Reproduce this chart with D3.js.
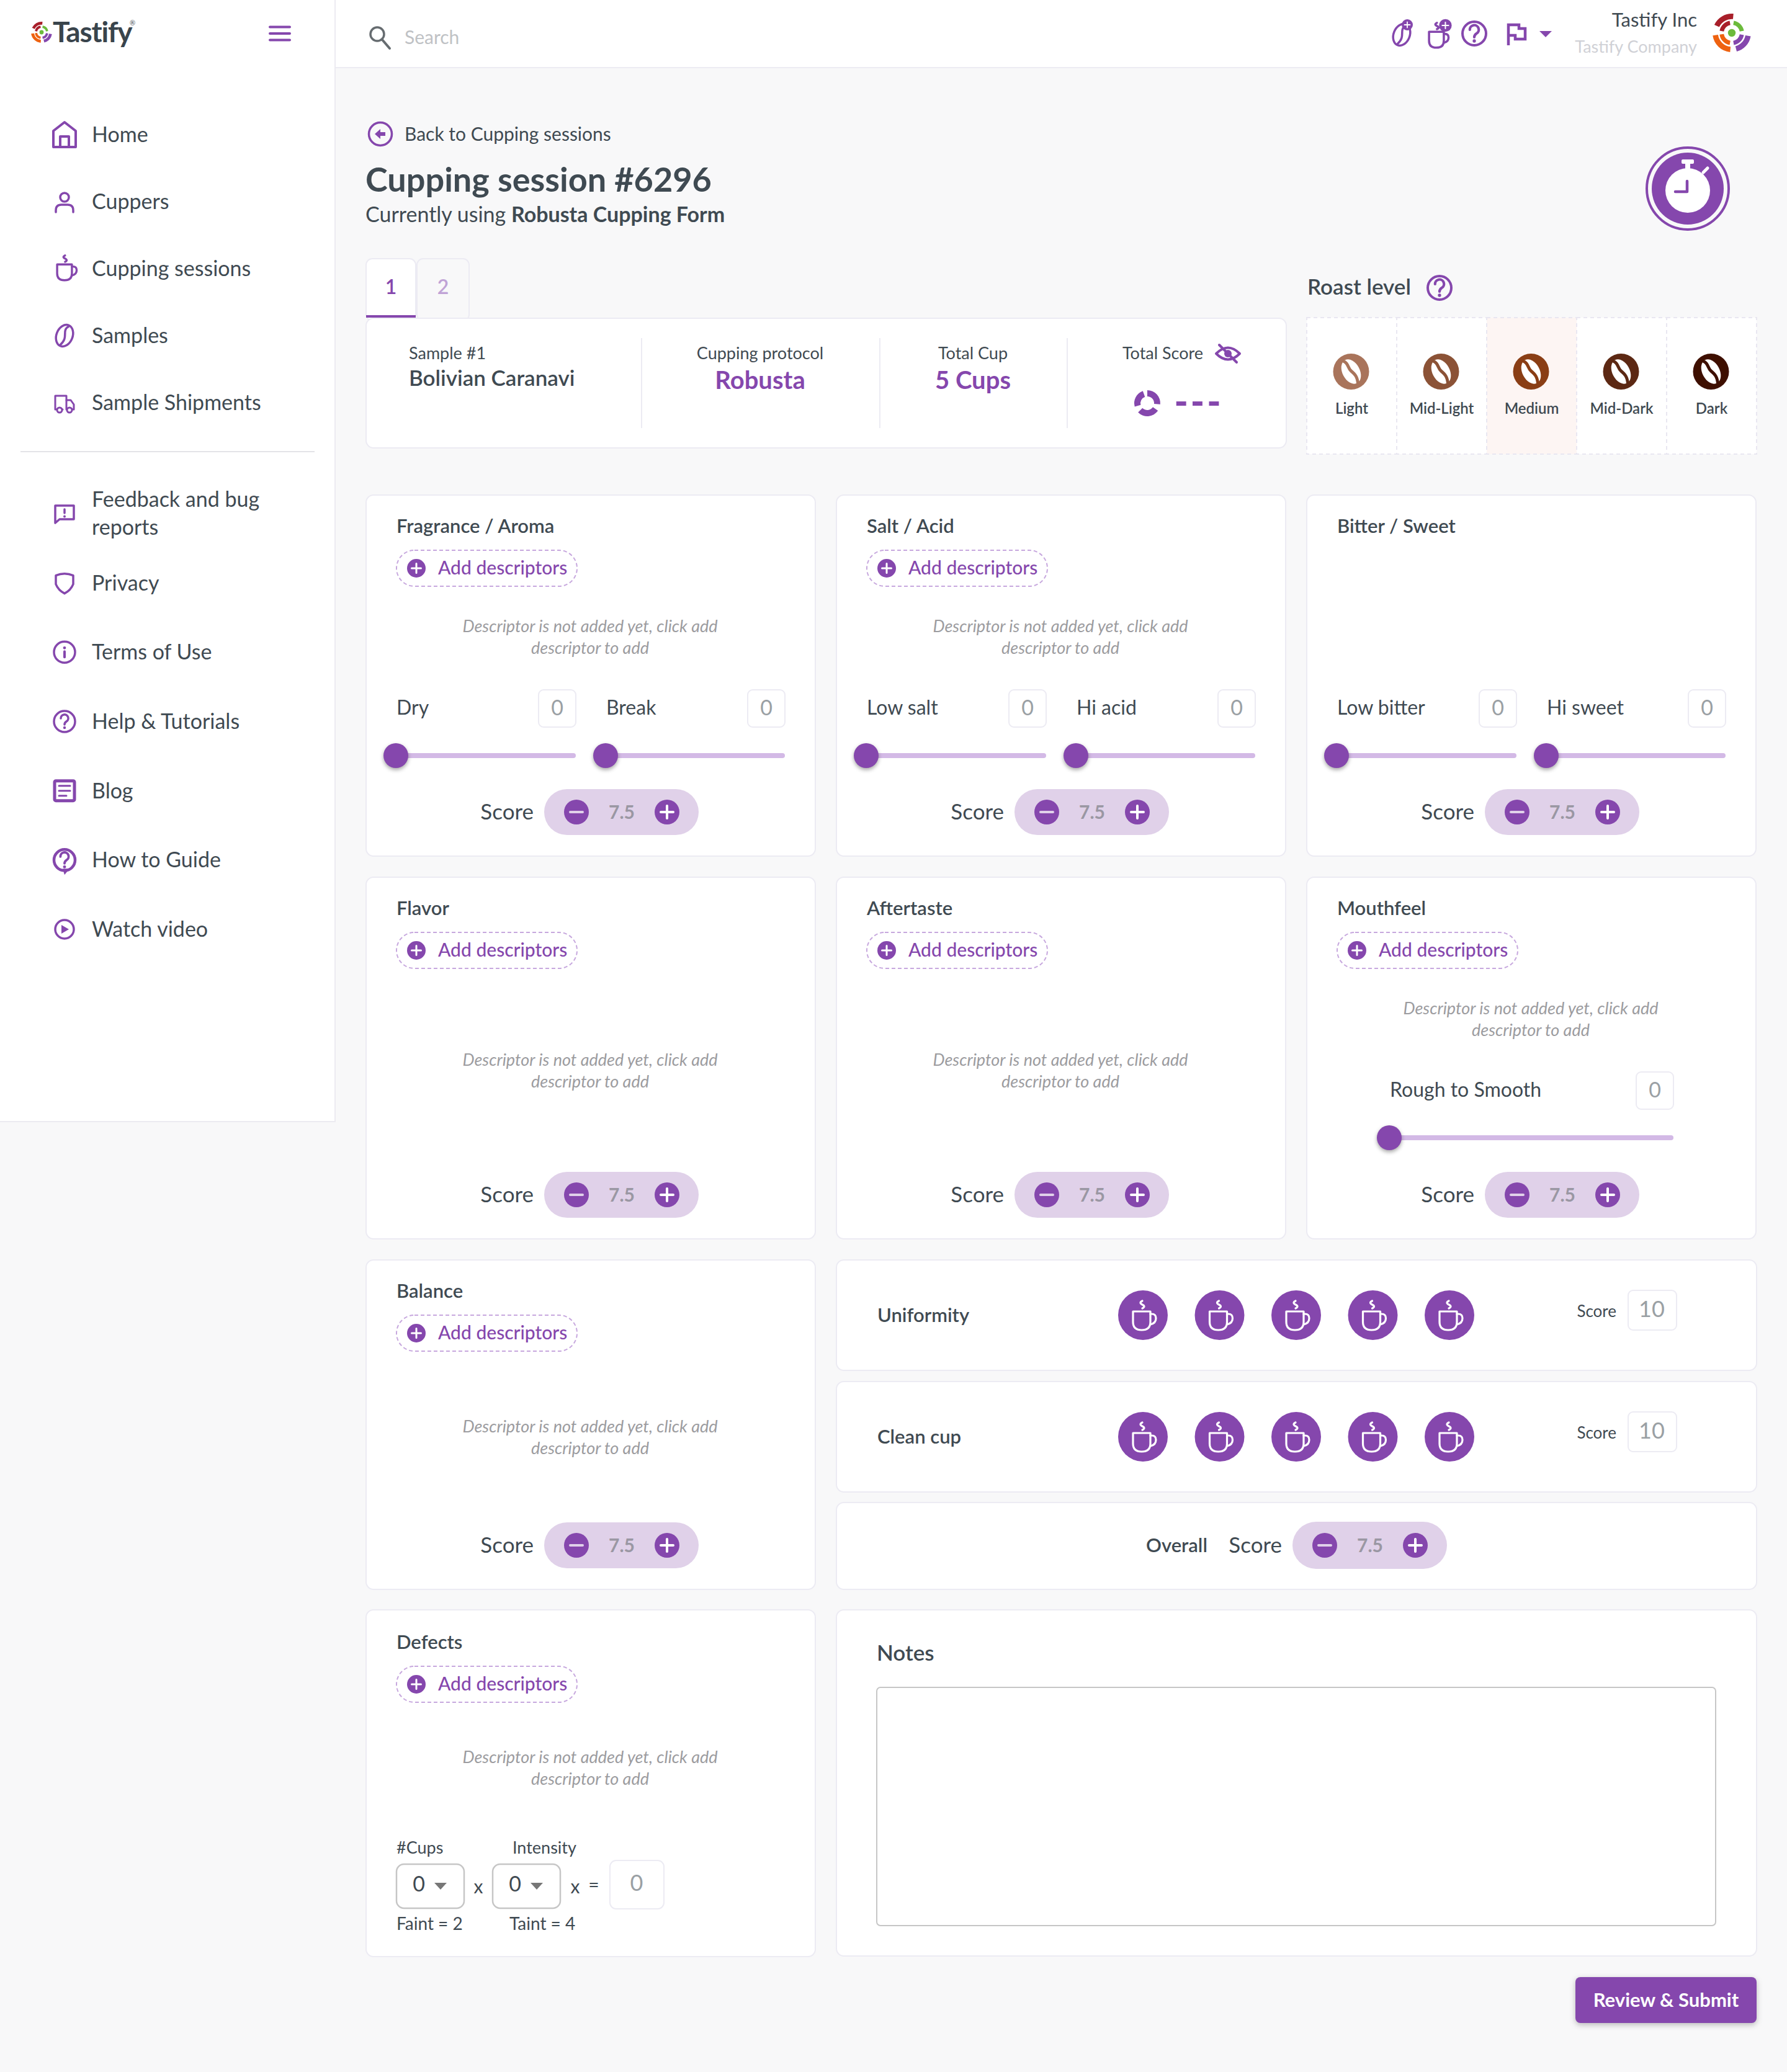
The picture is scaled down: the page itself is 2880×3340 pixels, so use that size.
<!DOCTYPE html>
<html>
<head>
<meta charset="utf-8">
<script src="https://cdn.jsdelivr.net/npm/d3@7"></script>
<style>
  html, body { margin: 0; padding: 0; background: #f8f8f9; }
  svg { display: block; }
  text { font-family: Lato, "Noto Sans", sans-serif; }
</style>
</head>
<body>
<div id="page"></div>
<script>
// page content
const navTop = ["Home", "Cuppers", "Cupping sessions", "Samples", "Sample Shipments"];
const navBottom = ["Feedback and bug|reports", "Privacy", "Terms of Use", "Help & Tutorials", "Blog", "How to Guide", "Watch video"];
const navTopIcons = ["home", "person", "cup", "bean", "truck"];
const navBottomIcons = ["feedback", "shield", "info", "help", "blog", "guide", "play"];

const sessionTabs = ["1", "2"];
const infoLabels = ["Cupping protocol", "Total Cup"];
const infoValues = ["Robusta", "5 Cups"];

const roastLevels = ["Light", "Mid-Light", "Medium", "Mid-Dark", "Dark"];
const selectedRoast = "Medium";

const cardTitles = ["Fragrance / Aroma", "Salt / Acid", "Bitter / Sweet", "Flavor", "Aftertaste", "Mouthfeel", "Balance"];
const cardScores = [7.5, 7.5, 7.5, 7.5, 7.5, 7.5, 7.5];
const cardSliderLabels = [["Dry", "Break"], ["Low salt", "Hi acid"], ["Low bitter", "Hi sweet"], [], [], ["Rough to Smooth"], []];
const cardSliderValues = [[0, 0], [0, 0], [0, 0], [], [], [0], []];
const cardHasDescriptors = [true, true, false, true, true, true, true];

const cupRows = ["Uniformity", "Clean cup"];
const cupRowScores = [10, 10];
const cupsPerRow = [0, 1, 2, 3, 4];
const overallScore = 7.5;
const defectCups = 0;
const defectIntensity = 0;
const defectTotal = 0;

const descriptorLines = ["Descriptor is not added yet, click add", "descriptor to add"];

// colours
const purple = "#8547ad";
const ink = "#3f4a52";
const softBorder = "#ecebf3";
const roastColor = d3.scaleOrdinal().domain(roastLevels).range(["#a9745b", "#8b5236", "#8a3e15", "#5c2813", "#3e0f00"]);

const svg = d3.select("#page").append("svg").attr("width", 2880).attr("height", 3340);
svg.append("rect").attr("width", 2880).attr("height", 3340).attr("fill", "#f8f8f9");

function label(g, x, y, str, opts) {
  opts = opts || {};
  return g.append("text")
    .attr("x", x).attr("y", y)
    .attr("dy", "0.35em")
    .attr("font-size", opts.size || 32)
    .attr("font-weight", opts.weight || 400)
    .attr("font-style", opts.italic ? "italic" : "normal")
    .attr("fill", opts.fill || ink)
    .attr("text-anchor", opts.anchor || "start")
    .attr("letter-spacing", opts.spacing || 0)
    .text(str);
}

function box(g, x, y, w, h, r, fill, stroke, sw) {
  return g.append("rect")
    .attr("x", x).attr("y", y).attr("width", w).attr("height", h).attr("rx", r)
    .attr("fill", fill).attr("stroke", stroke || "none").attr("stroke-width", sw || 0);
}

function line(g, d, sw, color) {
  return g.append("path").attr("d", d).attr("fill", "none")
    .attr("stroke", color || purple).attr("stroke-width", sw)
    .attr("stroke-linecap", "round").attr("stroke-linejoin", "round");
}

function questionMark(g, k, color) {
  line(g, `M${-6 * k},${-5 * k} a${6 * k},${6 * k} 0 1 1 ${9 * k},${5 * k} q${-3 * k},${2 * k} ${-3 * k},${5 * k}`, 3.5 * k, color);
  g.append("circle").attr("cy", 10 * k).attr("r", 2.2 * k).attr("fill", color || purple);
}

function plusCircle(g, x, y, r) {
  const c = g.append("g").attr("transform", `translate(${x},${y})`);
  c.append("circle").attr("r", r).attr("fill", purple);
  line(c, `M${-r * 0.5},0 H${r * 0.5} M0,${-r * 0.5} V${r * 0.5}`, r * 0.2, "#fff");
}

function minusCircle(g, x, y, r) {
  const c = g.append("g").attr("transform", `translate(${x},${y})`);
  c.append("circle").attr("r", r).attr("fill", purple);
  line(c, `M${-r * 0.5},0 H${r * 0.5}`, r * 0.2, "#e0d1e9");
}

function cupGlyph(g, color, sw) {
  line(g, "M1,-25 q-6,3 0,6 q6,3 0,6 ", sw, color);
  line(g, "M-14,-8 H14 V9 Q14,22 0,22 Q-14,22 -14,9 Z", sw, color);
  line(g, "M14,-4 h2 q7,0 7,7 q0,8 -9,10", sw, color);
}

const icons = {
  home(g) {
    line(g, "M-18,20 V-6 L0,-20 L18,-6 V20 Z", 4);
    line(g, "M-7,20 V3 H7 V20", 4);
  },
  person(g) {
    g.append("circle").attr("cy", -7).attr("r", 7).attr("fill", "none").attr("stroke", purple).attr("stroke-width", 3.5);
    line(g, "M-14,17 v-3 q0,-9 9,-9 h10 q9,0 9,9 v3", 3.5);
  },
  cup(g) { g.attr("transform", g.attr("transform") + " scale(0.85)"); cupGlyph(g, purple, 4); },
  bean(g) {
    g.append("ellipse").attr("rx", 13).attr("ry", 18).attr("transform", "rotate(22)")
      .attr("fill", "none").attr("stroke", purple).attr("stroke-width", 3.5);
    line(g, "M7,-15 C-6,-8 8,2 -7,15", 3.5);
  },
  truck(g) {
    line(g, "M-3,11 H-15 V-11 H3 V11", 3);
    line(g, "M3,-4 H10 L15,3 V11 H10", 3);
    g.append("circle").attr("cx", -8).attr("cy", 12).attr("r", 4).attr("fill", "#fff").attr("stroke", purple).attr("stroke-width", 3);
    g.append("circle").attr("cx", 8).attr("cy", 12).attr("r", 4).attr("fill", "#fff").attr("stroke", purple).attr("stroke-width", 3);
  },
  feedback(g) {
    line(g, "M-15,-13 H15 V9 H-8 L-15,15 Z", 3.5);
    line(g, "M0,-7 V-1", 3.5);
    g.append("circle").attr("cy", 4.5).attr("r", 2).attr("fill", purple);
  },
  shield(g) { line(g, "M-14,-12 Q0,-18 14,-12 V2 Q10,12 0,17 Q-10,12 -14,2 Z", 3.5); },
  info(g) {
    g.append("circle").attr("r", 17).attr("fill", "none").attr("stroke", purple).attr("stroke-width", 3.5);
    line(g, "M0,-1 V8", 4);
    g.append("circle").attr("cy", -7).attr("r", 2.3).attr("fill", purple);
  },
  help(g) {
    g.append("circle").attr("r", 17).attr("fill", "none").attr("stroke", purple).attr("stroke-width", 3.5);
    questionMark(g, 1);
  },
  blog(g) {
    box(g, -16, -16, 32, 32, 2, "none", purple, 5);
    line(g, "M-9,-8 H9 M-9,0 H9 M-9,8 H3", 3);
  },
  guide(g) {
    g.append("circle").attr("r", 17).attr("fill", "none").attr("stroke", purple).attr("stroke-width", 4.5);
    g.append("path").attr("d", "M-3,14 L0,24 L8,14 Z").attr("fill", purple);
    questionMark(g, 1.1);
  },
  play(g) {
    g.append("circle").attr("r", 15).attr("fill", "none").attr("stroke", purple).attr("stroke-width", 3.5);
    g.append("path").attr("d", "M-5,-7 L7,0 L-5,7 Z").attr("fill", purple);
  }
};

// target-like rings used by the logo and the account avatar
const arc = d3.arc();
function rings(g, k) {
  const deg = Math.PI / 180;
  const segs = [
    [0.72, 1, -65, 5, "#a81f2a"], [0.72, 1, 100, 165, "#8547ad"], [0.72, 1, 185, 262, "#ee6210"],
    [0.42, 0.64, -80, -10, "#a81f2a"], [0.42, 0.64, 10, 80, "#6cbb3c"],
    [0.42, 0.64, 100, 170, "#8547ad"], [0.42, 0.64, 190, 262, "#ee6210"]
  ];
  segs.forEach(s => {
    g.append("path").attr("fill", s[4]).attr("d", arc({
      innerRadius: s[0] * k, outerRadius: s[1] * k, startAngle: s[2] * deg, endAngle: s[3] * deg
    }));
  });
  g.append("circle").attr("r", 0.2 * k).attr("fill", "#6cbb3c");
}

// sidebar + header
box(svg, -4, -4, 544, 1812, 0, "#fff", "#ecebf1", 2);
svg.append("rect").attr("x", 541).attr("width", 2339).attr("height", 108).attr("fill", "#fff");
svg.append("rect").attr("x", 541).attr("y", 108).attr("width", 2339).attr("height", 2).attr("fill", softBorder);

rings(svg.append("g").attr("transform", "translate(67,52)"), 17);
label(svg, 85, 52, "Tastify", { size: 46, weight: 700, spacing: -1.2, fill: "#39444c" });
label(svg, 209, 37, "®", { size: 11 });
line(svg, "M435,43.5 H467 M435,54 H467 M435,64.5 H467", 4);

const searchIcon = svg.append("g").attr("transform", "translate(608,58)");
searchIcon.append("circle").attr("cy", -3).attr("r", 11).attr("fill", "none").attr("stroke", "#666c70").attr("stroke-width", 3.5);
line(searchIcon, "M8,6 L20,20", 4, "#666c70");
label(svg, 652, 60, "Search", { size: 30, fill: "#bfc2c5" });

const navY1 = d3.scalePoint().domain(navTop).range([217, 649]);
const navY2 = d3.scalePoint().domain(navBottom).range([828, 1498]);
navTop.forEach((name, i) => {
  const g = svg.append("g").attr("transform", `translate(104,${navY1(name)})`);
  icons[navTopIcons[i]](g);
  label(svg, 148, navY1(name), name, { size: 34 });
});
svg.append("rect").attr("x", 33).attr("y", 727).attr("width", 474).attr("height", 2).attr("fill", "#e4e4e8");
navBottom.forEach((name, i) => {
  const g = svg.append("g").attr("transform", `translate(104,${navY2(name)})`);
  icons[navBottomIcons[i]](g);
  const parts = name.split("|");
  if (parts.length > 1) {
    label(svg, 148, navY2(name) - 23, parts[0], { size: 34 });
    label(svg, 148, navY2(name) + 22, parts[1], { size: 34 });
  } else {
    label(svg, 148, navY2(name), name, { size: 34 });
  }
});

// top right
const beanPlus = svg.append("g").attr("transform", "translate(2259,56)");
icons.bean(beanPlus);
plusCircle(beanPlus, 9, -16, 9);
const cupPlus = svg.append("g").attr("transform", "translate(2315,58) scale(0.85)");
cupGlyph(cupPlus, purple, 4.2);
plusCircle(cupPlus, 17, -20, 12);
const topHelp = svg.append("g").attr("transform", "translate(2376,54)");
topHelp.append("circle").attr("r", 19).attr("fill", "none").attr("stroke", purple).attr("stroke-width", 4);
questionMark(topHelp, 1.2);
line(svg.append("g").attr("transform", "translate(2445,55)"), "M-14,18 V-15 H3 V-9 H13 V8 H-3 V2 H-14", 4.5).attr("stroke-linecap", "butt").attr("stroke-linejoin", "miter");
svg.append("path").attr("d", "M2481,50 H2501 L2491,60 Z").attr("fill", purple);
label(svg, 2735, 32, "Tastify Inc", { size: 31, anchor: "end" });
label(svg, 2735, 76, "Tastify Company", { size: 27, anchor: "end", fill: "#d0d1d6" });
rings(svg.append("g").attr("transform", "translate(2791,53)"), 31);

// heading block
const backIcon = svg.append("g").attr("transform", "translate(613,216)");
backIcon.append("circle").attr("r", 18.5).attr("fill", "none").attr("stroke", purple).attr("stroke-width", 3.5);
backIcon.append("path").attr("d", "M-9,0 L0,-8 V-3 H8 V3 H0 V8 Z").attr("fill", purple);
label(svg, 652, 216, "Back to Cupping sessions", { size: 30 });
label(svg, 589, 290, "Cupping session #6296", { size: 54, weight: 700 });
const subTitle = label(svg, 589, 346, "Currently using ", { size: 34 }).attr("xml:space", "preserve");
subTitle.append("tspan").attr("font-weight", 700).text("Robusta Cupping Form");

// session timer
const timer = svg.append("g").attr("transform", "translate(2720,304)");
timer.append("circle").attr("r", 66).attr("fill", "none").attr("stroke", purple).attr("stroke-width", 4);
timer.append("circle").attr("r", 58).attr("fill", purple);
timer.append("circle").attr("cy", 3).attr("r", 36).attr("fill", "#fff");
timer.append("rect").attr("x", -10).attr("y", -47).attr("width", 20).attr("height", 7).attr("rx", 2).attr("fill", "#fff");
timer.append("rect").attr("x", -4).attr("y", -42).attr("width", 8).attr("height", 10).attr("fill", "#fff");
line(timer, "M25,-26 L32,-33", 5, "#fff");
line(timer, "M-1,-12 V5 H-20", 4.5);

// tabs
const tabX = d3.scaleOrdinal().domain(sessionTabs).range([590, 672]);
const tabW = d3.scaleOrdinal().domain(sessionTabs).range([80, 84]);
sessionTabs.forEach((t, i) => {
  box(svg, tabX(t), 417, tabW(t), 100, 10, i === 0 ? "#fff" : "#f8f8f9", softBorder, 2);
  label(svg, tabX(t) + tabW(t) / 2, 463, t, { size: 32, weight: 600, anchor: "middle", fill: i === 0 ? purple : "#c0a3d6" });
});
svg.append("rect").attr("x", 590).attr("y", 508).attr("width", 80).attr("height", 4).attr("fill", purple);

// sample info strip
box(svg, 590, 513, 1483, 209, 12, "#fff", softBorder, 2);
svg.append("rect").attr("x", 590).attr("y", 508).attr("width", 80).attr("height", 4).attr("fill", purple);
[1033, 1417, 1719].forEach(x => {
  svg.append("rect").attr("x", x).attr("y", 545).attr("width", 2).attr("height", 145).attr("fill", softBorder);
});
label(svg, 659, 570, "Sample #1", { size: 27 });
label(svg, 659, 610, "Bolivian Caranavi", { size: 35, weight: 600 });
const infoX = d3.scaleOrdinal().domain(infoLabels).range([1225, 1568]);
infoLabels.forEach((t, i) => {
  label(svg, infoX(t), 570, t, { size: 27, anchor: "middle" });
  label(svg, infoX(t), 613, infoValues[i], { size: 40, weight: 700, anchor: "middle", fill: purple });
});
label(svg, 1874, 570, "Total Score", { size: 27, anchor: "middle" });
const eye = svg.append("g").attr("transform", "translate(1979,570)");
line(eye, "M-19,0 Q0,-19 19,0 Q0,19 -19,0 Z", 4);
eye.append("circle").attr("r", 6).attr("fill", purple);
line(eye, "M-14,-14 L14,14", 4);
const spinner = svg.append("g").attr("transform", "translate(1849,650)");
[[0, 95], [125, 225], [255, 340]].forEach(a => {
  spinner.append("path").attr("fill", purple).attr("d", arc({
    innerRadius: 11, outerRadius: 21, startAngle: a[0] * Math.PI / 180, endAngle: a[1] * Math.PI / 180
  }));
});
label(svg, 1932, 648, "---", { size: 60, weight: 900, anchor: "middle", fill: purple, spacing: 4 });

// roast level
label(svg, 2107, 463, "Roast level", { size: 35, weight: 600 });
const roastHelp = svg.append("g").attr("transform", "translate(2320,464)");
roastHelp.append("circle").attr("r", 19).attr("fill", "none").attr("stroke", purple).attr("stroke-width", 4);
questionMark(roastHelp, 1.2);

const roastX = d3.scaleBand().domain(roastLevels).range([2106, 2831]);
roastLevels.forEach(r => {
  const x = roastX(r), w = roastX.bandwidth();
  svg.append("rect").attr("x", x).attr("y", 512).attr("width", w).attr("height", 220)
    .attr("fill", r === selectedRoast ? "#fdf5f3" : "#fff")
    .attr("stroke", "#e9e7f1").attr("stroke-width", 2).attr("stroke-dasharray", "6 5");
  const g = svg.append("g").attr("transform", `translate(${x + w / 2 - 1},599)`);
  g.append("circle").attr("r", 29).attr("fill", roastColor(r));
  g.append("ellipse").attr("rx", 14).attr("ry", 21).attr("transform", "rotate(-28)").attr("fill", "#fff");
  line(g, "M-13,-17 C-4,-14 -6,-6 0,-1 C6,4 10,8 11,19", 5, roastColor(r));
  label(svg, x + w / 2, 659, r, { size: 24, weight: 600, anchor: "middle" });
});

// sensory cards
const cardX = d3.scaleOrdinal().domain([0, 1, 2]).range([590, 1348, 2106]);
const cardTop = d3.scaleOrdinal().domain([0, 1, 2]).range([798, 1414, 2031]);
const cardH = d3.scaleOrdinal().domain([0, 1, 2]).range([582, 583, 531]);
const cardW = 724;

function addDescriptors(g, x, cy) {
  const b = box(g, x, cy - 29, 291, 58, 29, "#fff", "#c7a8de", 2);
  b.attr("stroke-dasharray", "6 4");
  plusCircle(g, x + 32, cy, 15);
  label(g, x + 67, cy - 1, "Add descriptors", { size: 30, weight: 500, fill: purple });
}

function descriptorNote(g, cx, y1) {
  descriptorLines.forEach((t, i) => {
    label(g, cx, y1 + i * 35, t, { size: 27, italic: true, anchor: "middle", fill: "#9c9c9f" });
  });
}

function scoreWidget(g, x, cy, h, value) {
  label(g, x - 17, cy, "Score", { size: 35, anchor: "end" });
  box(g, x, cy - h / 2, 249, h, h / 2, "#e0d1e9");
  minusCircle(g, x + 52, cy, 20);
  plusCircle(g, x + 198, cy, 20);
  label(g, x + 125, cy, value, { size: 30, weight: 700, anchor: "middle", fill: "#9a97a3" });
}

function slider(g, name, value, x0, x1, y) {
  const sx = d3.scaleLinear().domain([0, 10]).range([x0, x1]);
  label(g, x0 + 1, y - 77, name, { size: 32 });
  box(g, x1 - 60, y - 106, 60, 60, 8, "#fff", softBorder, 2);
  label(g, x1 - 30, y - 77, value, { size: 34, anchor: "middle", fill: "#9aa0a4" });
  box(g, x0, y - 4, x1 - x0, 8, 4, "#d3b9e6");
  g.append("circle").attr("cx", sx(value)).attr("cy", y).attr("r", 20).attr("fill", purple)
    .style("filter", "drop-shadow(0 3px 3px rgba(0,0,0,0.35))");
}

cardTitles.forEach((title, i) => {
  const col = i % 3, row = Math.floor(i / 3);
  const x = cardX(col), top = cardTop(row), h = cardH(row);
  const g = svg.append("g");
  box(g, x, top, cardW, h, 12, "#fff", softBorder, 2);
  label(g, x + 49, top + 50, title, { size: 31, weight: 600 });
  if (cardHasDescriptors[i]) addDescriptors(g, x + 49, top + 118);

  const sliders = cardSliderLabels[i];
  const scoreY = top + h - 71;
  if (cardHasDescriptors[i]) {
    descriptorNote(g, x + 361, sliders.length ? top + 212 : (top + 118 + scoreY) / 2 - 20);
  }
  const spans = sliders.length === 2 ? [[48, 338], [386, 675]] : [[133, 591]];
  sliders.forEach((name, j) => {
    slider(g, name, cardSliderValues[i][j], x + spans[j][0], x + spans[j][1], top + 420);
  });
  scoreWidget(g, x + 287, scoreY, 74, cardScores[i]);
});

// uniformity / clean cup
const cupX = d3.scalePoint().domain(cupsPerRow).range([1842, 2336]);
const cupRowTop = d3.scaleOrdinal().domain(cupRows).range([2031, 2227]);
cupRows.forEach((name, i) => {
  const top = cupRowTop(name);
  box(svg, 1348, top, 1483, 178, 12, "#fff", softBorder, 2);
  label(svg, 1414, top + 89, name, { size: 31, weight: 600 });
  cupsPerRow.forEach(c => {
    const g = svg.append("g").attr("transform", `translate(${cupX(c)},${top + 89})`);
    g.append("circle").attr("r", 40).attr("fill", purple);
    cupGlyph(g.append("g").attr("transform", "translate(-2,2)"), "#fff", 3.2);
  });
  label(svg, 2605, top + 83, "Score", { size: 26, anchor: "end" });
  box(svg, 2624, top + 49, 78, 64, 8, "#fff", softBorder, 2);
  label(svg, 2662, top + 79, cupRowScores[i], { size: 36, anchor: "middle", fill: "#9aa0a4" });
});

// overall
box(svg, 1348, 2422, 1483, 140, 12, "#fff", softBorder, 2);
label(svg, 1847, 2491, "Overall", { size: 31, weight: 600 });
scoreWidget(svg, 2083, 2491, 76, overallScore);

// defects
box(svg, 590, 2595, 724, 559, 12, "#fff", softBorder, 2);
label(svg, 639, 2647, "Defects", { size: 31, weight: 600 });
addDescriptors(svg, 639, 2715);
descriptorNote(svg, 951, 2833);
label(svg, 639, 2979, "#Cups", { size: 27 });
label(svg, 826, 2979, "Intensity", { size: 27 });
[[639, defectCups], [794, defectIntensity]].forEach(s => {
  box(svg, s[0], 3005, 109, 71, 12, "#fff", "#c6c6c6", 2.5);
  label(svg, s[0] + 36, 3037, s[1], { size: 34, anchor: "middle" });
  svg.append("path").attr("d", `M${s[0] + 61},3035 H${s[0] + 81} L${s[0] + 71},3046 Z`).attr("fill", "#777");
});
label(svg, 771, 3041, "x", { size: 30, anchor: "middle" });
label(svg, 927, 3041, "x", { size: 30, anchor: "middle" });
label(svg, 957, 3038, "=", { size: 30, anchor: "middle" });
box(svg, 983, 2999, 87, 78, 10, "#fff", softBorder, 2);
label(svg, 1026, 3035, defectTotal, { size: 36, anchor: "middle", fill: "#9aa0a4" });
label(svg, 639, 3101, "Faint = 2", { size: 28 });
label(svg, 821, 3101, "Taint = 4", { size: 28 });

// notes
box(svg, 1348, 2595, 1483, 558, 12, "#fff", softBorder, 2);
label(svg, 1413, 2665, "Notes", { size: 35, weight: 600 });
box(svg, 1413, 2720, 1352, 384, 6, "#fff", "#c6c6c6", 2);

// submit
box(svg, 2539, 3187, 292, 74, 8, purple).style("filter", "drop-shadow(0 3px 5px rgba(0,0,0,0.25))");
label(svg, 2685, 3224, "Review & Submit", { size: 31, weight: 700, anchor: "middle", fill: "#fff" });
</script>
</body>
</html>
